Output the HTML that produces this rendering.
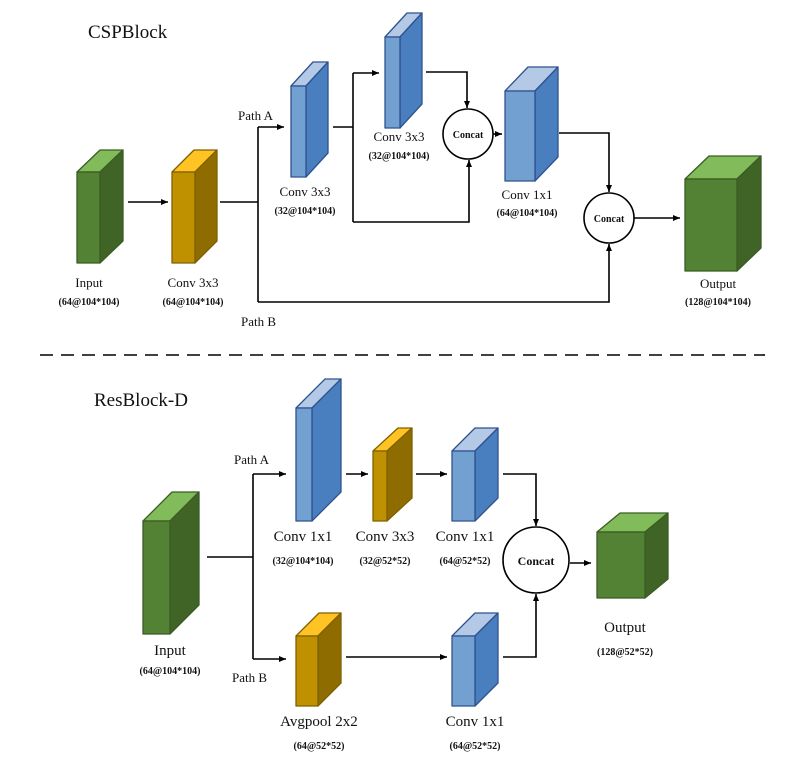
<!DOCTYPE html>
<html><head><meta charset="utf-8"><style>
html,body{margin:0;padding:0;background:#fff;}
svg{display:block;}
text{font-family:"Liberation Serif",serif;fill:#111;}
.b{font-weight:bold;font-size:10px;}
.l{font-size:13px;}
</style></head><body>
<svg id="s" width="795" height="758" viewBox="0 0 795 758" xmlns="http://www.w3.org/2000/svg">
<defs><marker id="a" markerWidth="8" markerHeight="8" refX="7" refY="4" orient="auto" markerUnits="userSpaceOnUse"><path d="M0,1 L7,4 L0,7z" fill="#000"/></marker></defs>
<g id="boxes"></g>
<g stroke="#000" stroke-width="1.6" fill="none">
<!-- CSP -->
<line x1="128" y1="202" x2="168" y2="202" marker-end="url(#a)"/>
<polyline points="220,202 258,202"/>
<polyline points="258,127 258,302"/>
<polyline points="258,127 284,127" marker-end="url(#a)"/>
<polyline points="258,302 609,302 609,244" marker-end="url(#a)"/>
<polyline points="333,127 353,127"/>
<polyline points="353,73 353,222"/>
<polyline points="353,73 379,73" marker-end="url(#a)"/>
<polyline points="426,72 467,72 467,108" marker-end="url(#a)"/>
<polyline points="353,222 469,222 469,160" marker-end="url(#a)"/>
<polyline points="493,134 502,134" marker-end="url(#a)"/>
<polyline points="559,133 609,133 609,192" marker-end="url(#a)"/>
<polyline points="634,218 680,218" marker-end="url(#a)"/>
<circle cx="468" cy="134" r="25" fill="#fff"/>
<circle cx="609" cy="218" r="25" fill="#fff"/>
<!-- Res -->
<polyline points="207,557 253,557"/>
<polyline points="253,474 253,659"/>
<polyline points="253,474 286,474" marker-end="url(#a)"/>
<polyline points="253,659 286,659" marker-end="url(#a)"/>
<polyline points="346,474 368,474" marker-end="url(#a)"/>
<polyline points="416,474 447,474" marker-end="url(#a)"/>
<polyline points="503,474 536,474 536,526" marker-end="url(#a)"/>
<polyline points="346,657 447,657" marker-end="url(#a)"/>
<polyline points="503,657 536,657 536,594" marker-end="url(#a)"/>
<polyline points="570,563 591,563" marker-end="url(#a)"/>
<circle cx="536" cy="560" r="33" fill="#fff"/>
</g>
<line x1="40" y1="355" x2="765" y2="355" stroke="#000" stroke-width="1.6" stroke-dasharray="13,8"/>

<text x="88" y="38" font-size="19">CSPBlock</text>
<text x="94" y="406" font-size="19">ResBlock-D</text>

<text x="89" y="287" class="l" text-anchor="middle">Input</text>
<text x="89" y="305" class="b" text-anchor="middle">(64@104*104)</text>
<text x="193" y="287" class="l" text-anchor="middle">Conv 3x3</text>
<text x="193" y="305" class="b" text-anchor="middle">(64@104*104)</text>
<text x="238" y="120" class="l">Path A</text>
<text x="241" y="326" class="l">Path B</text>
<text x="305" y="196" class="l" text-anchor="middle">Conv 3x3</text>
<text x="305" y="214" class="b" text-anchor="middle">(32@104*104)</text>
<text x="399" y="141" class="l" text-anchor="middle">Conv 3x3</text>
<text x="399" y="159" class="b" text-anchor="middle">(32@104*104)</text>
<text x="468" y="138" class="b" text-anchor="middle">Concat</text>
<text x="527" y="199" class="l" text-anchor="middle">Conv 1x1</text>
<text x="527" y="216" class="b" text-anchor="middle">(64@104*104)</text>
<text x="609" y="222" class="b" text-anchor="middle">Concat</text>
<text x="718" y="288" class="l" text-anchor="middle">Output</text>
<text x="718" y="305" class="b" text-anchor="middle">(128@104*104)</text>

<text x="170" y="655" font-size="15" text-anchor="middle">Input</text>
<text x="170" y="674" class="b" text-anchor="middle">(64@104*104)</text>
<text x="234" y="464" class="l">Path A</text>
<text x="232" y="682" class="l">Path B</text>
<text x="303" y="541" font-size="15" text-anchor="middle">Conv 1x1</text>
<text x="303" y="564" class="b" text-anchor="middle">(32@104*104)</text>
<text x="385" y="541" font-size="15" text-anchor="middle">Conv 3x3</text>
<text x="385" y="564" class="b" text-anchor="middle">(32@52*52)</text>
<text x="465" y="541" font-size="15" text-anchor="middle">Conv 1x1</text>
<text x="465" y="564" class="b" text-anchor="middle">(64@52*52)</text>
<text x="536" y="565" font-size="12" font-weight="bold" text-anchor="middle">Concat</text>
<text x="625" y="632" font-size="15" text-anchor="middle">Output</text>
<text x="625" y="655" class="b" text-anchor="middle">(128@52*52)</text>
<text x="319" y="726" font-size="15" text-anchor="middle">Avgpool 2x2</text>
<text x="319" y="749" class="b" text-anchor="middle">(64@52*52)</text>
<text x="475" y="726" font-size="15" text-anchor="middle">Conv 1x1</text>
<text x="475" y="749" class="b" text-anchor="middle">(64@52*52)</text>
</svg>
<script>
var C={g:["#548235","#3f6426","#81bb5a","#3a5c25"],y:["#bf9000","#8f6c00","#ffc423","#7f6000"],b:["#72a0d0","#4a7fbf","#b4c9e6","#2f528f"]};
var B=[["g",77,172,23,91,23,-22],["y",172,172,23,91,22,-22],["b",291,86,15,91,22,-24],["b",385,37,15,91,22,-24],
["b",505,91,30,90,23,-24],["g",685,179,52,92,24,-23],
["g",143,521,27,113,29,-29],["b",296,408,16,113,29,-29],["y",373,451,14,70,25,-23],["b",452,451,23,70,23,-23],
["y",296,636,22,70,23,-23],["b",452,636,23,70,23,-23],["g",597,532,48,66,23,-19]];
var h="";B.forEach(function(b){var c=C[b[0]],x=b[1],y=b[2],w=b[3],H=b[4],dx=b[5],dy=b[6];
var st='stroke="'+c[3]+'" stroke-width="1.3" stroke-linejoin="round"';
h+='<polygon points="'+x+','+y+' '+(x+dx)+','+(y+dy)+' '+(x+w+dx)+','+(y+dy)+' '+(x+w)+','+y+'" fill="'+c[2]+'" '+st+'/>';
h+='<polygon points="'+(x+w)+','+y+' '+(x+w+dx)+','+(y+dy)+' '+(x+w+dx)+','+(y+H+dy)+' '+(x+w)+','+(y+H)+'" fill="'+c[1]+'" '+st+'/>';
h+='<rect x="'+x+'" y="'+y+'" width="'+w+'" height="'+H+'" fill="'+c[0]+'" '+st+'/>';});
document.getElementById("boxes").innerHTML=h;
</script>
</body></html>
